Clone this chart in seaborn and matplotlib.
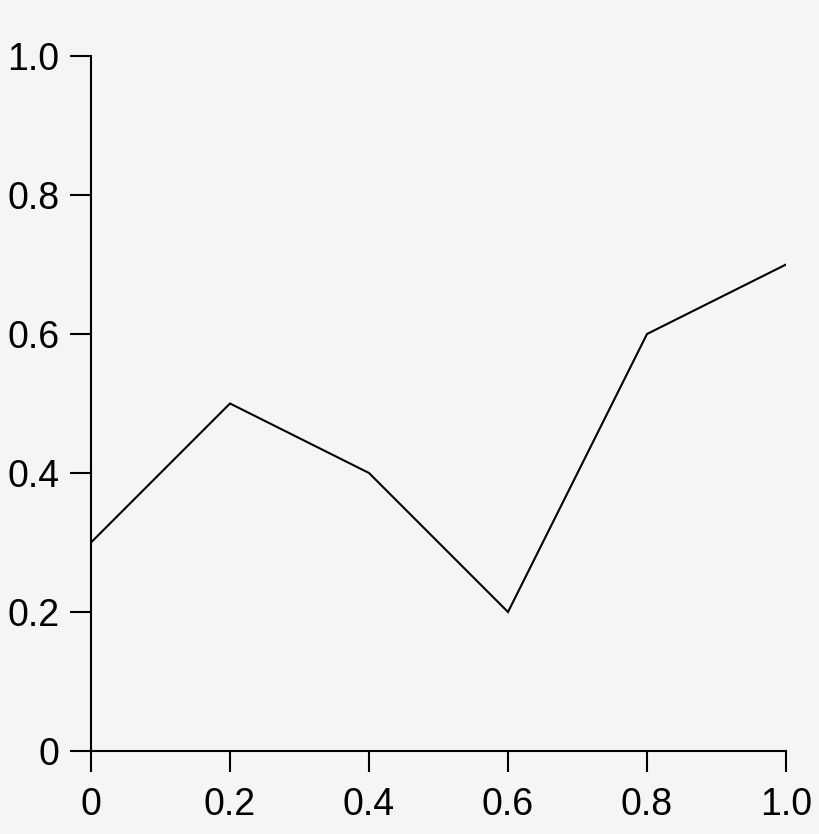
import matplotlib
matplotlib.use("Agg")
import matplotlib.pyplot as plt
import seaborn as sns
import pandas as pd
from matplotlib.ticker import FuncFormatter

x_vals = [0.0, 0.2, 0.4, 0.6, 0.8, 1.0]
y_vals = [0.3, 0.5, 0.4, 0.2, 0.6, 0.7]
tick_vals = [0.0, 0.2, 0.4, 0.6, 0.8, 1.0]

sns.set_theme(style="ticks")
plt.rcParams['font.family'] = ['Liberation Sans', 'DejaVu Sans']

bg = "#f5f5f5"
fig = plt.figure(figsize=(8.2, 8.34), dpi=100, facecolor=bg)
ax = fig.add_axes([91/820, 83/834, (786-91)/820, (751-56)/834])
ax.set_facecolor(bg)

df = pd.DataFrame({"x": x_vals, "y": y_vals})
sns.lineplot(data=df, x="x", y="y", ax=ax, color="black", linewidth=1.5)
for ln in ax.get_lines():
    ln.set_solid_joinstyle("miter")

ax.set_xlim(0, 1)
ax.set_ylim(0, 1)
ax.set_xticks(tick_vals)
ax.set_yticks(tick_vals)
fmt = FuncFormatter(lambda v, p: "0" if abs(v) < 1e-9 else f"{v:.1f}")
ax.xaxis.set_major_formatter(fmt)
ax.yaxis.set_major_formatter(fmt)
ax.set_xlabel("")
ax.set_ylabel("")
for s in ["top", "right"]:
    ax.spines[s].set_visible(False)
for s in ["left", "bottom"]:
    ax.spines[s].set_color("black")
    ax.spines[s].set_linewidth(1.5)
ax.tick_params(axis="both", direction="out", length=15, width=1.5, color="black",
               labelsize=27, labelcolor="black")
ax.tick_params(axis="x", pad=11)
ax.tick_params(axis="y", pad=7.5)
ax.grid(False)

fig.savefig("out.png", dpi=100, facecolor=bg)
